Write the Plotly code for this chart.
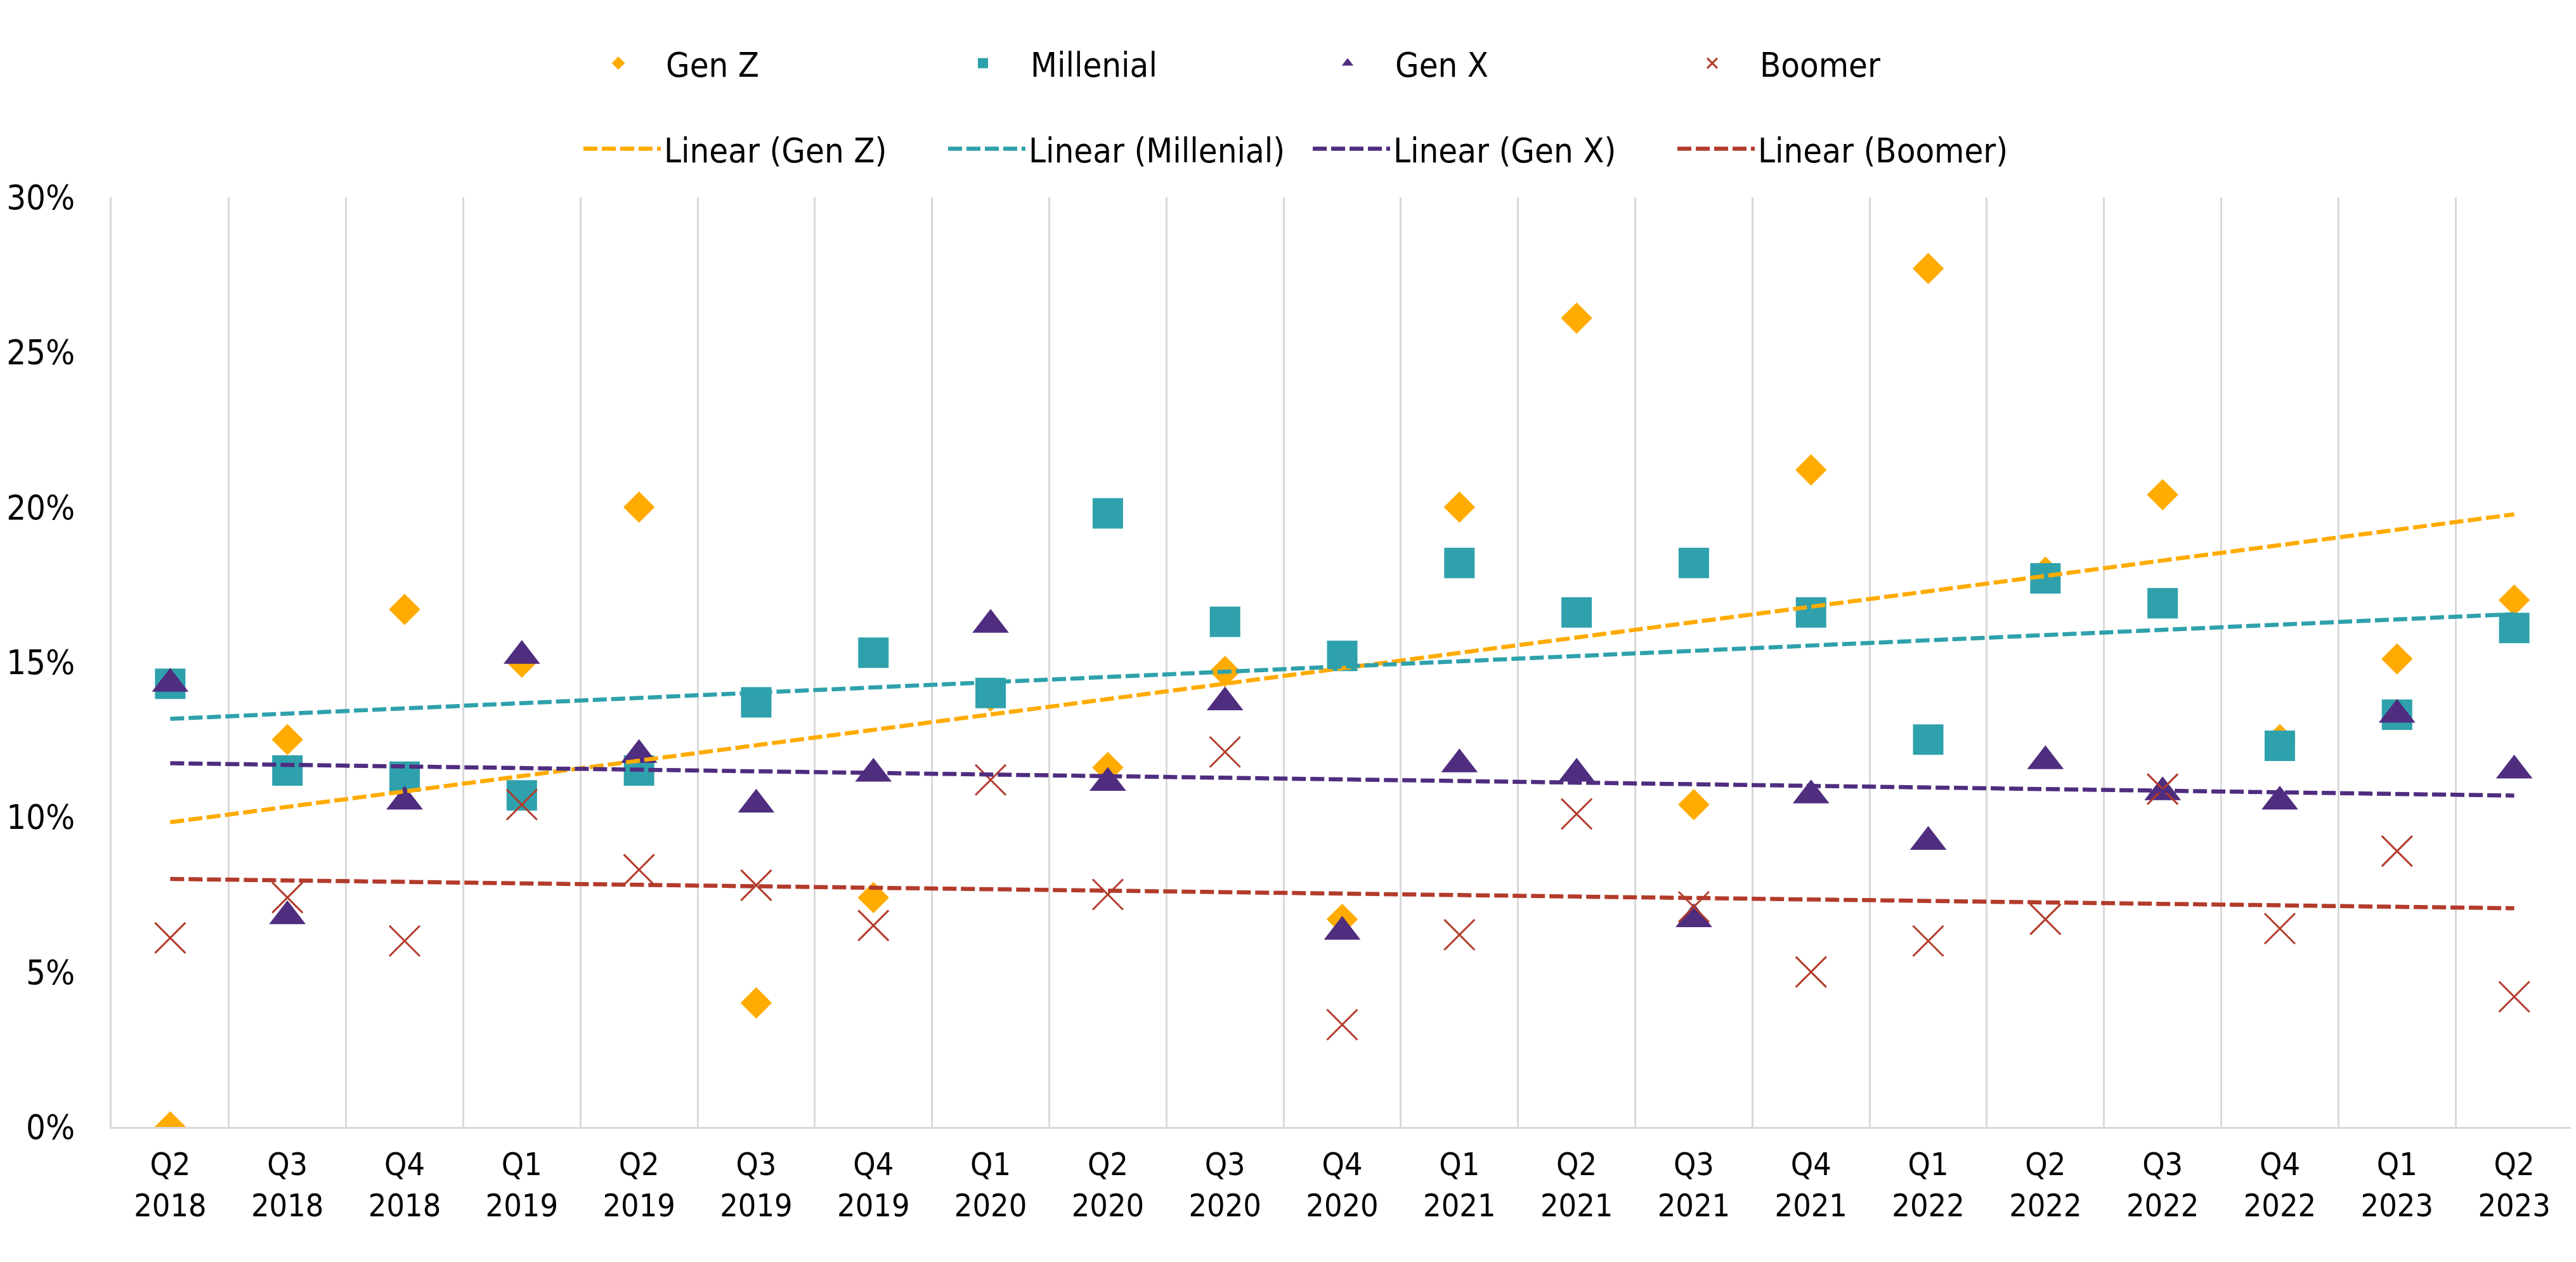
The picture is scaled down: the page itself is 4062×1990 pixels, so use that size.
import numpy as np
import plotly.graph_objects as go

quarters = ["Q2<br>2018", "Q3<br>2018", "Q4<br>2018", "Q1<br>2019", "Q2<br>2019", "Q3<br>2019",
            "Q4<br>2019", "Q1<br>2020", "Q2<br>2020", "Q3<br>2020", "Q4<br>2020", "Q1<br>2021",
            "Q2<br>2021", "Q3<br>2021", "Q4<br>2021", "Q1<br>2022", "Q2<br>2022", "Q3<br>2022",
            "Q4<br>2022", "Q1<br>2023", "Q2<br>2023"]

# percentages
gen_z = [0.0, 12.5, 16.7, 15.0, 20.0, 4.0, 7.4, 13.9, 11.6, 14.7, 6.7,
         20.0, 26.1, 10.4, 21.2, 27.7, 17.9, 20.4, 12.5, 15.1, 17.0]
millenial = [14.3, 11.5, 11.3, 10.7, 11.5, 13.7, 15.3, 14.0, 19.8, 16.3, 15.2,
             18.2, 16.6, 18.2, 16.6, 12.5, 17.7, 16.9, 12.3, 13.3, 16.1]
gen_x = [14.3, 6.8, 10.5, 15.2, 12.0, 10.4, 11.4, 16.2, 11.1, 13.7, 6.3,
         11.7, 11.4, 6.7, 10.7, 9.2, 11.8, 10.8, 10.5, 13.3, 11.5]
boomer = [6.1, 7.4, 6.0, 10.4, 8.3, 7.8, 6.5, 11.2, 7.5, 12.1, 3.3,
          6.2, 10.1, 7.1, 5.0, 6.0, 6.7, 10.9, 6.4, 8.9, 4.2]

FONT = "Tahoma, 'DejaVu Sans Condensed', 'DejaVu Sans', sans-serif"
GRID = "#d9d9d9"
W, H = 4054, 1982  # page body adds an 8px margin

series = [
    ("Gen Z", gen_z, "#FFAB00", dict(symbol="diamond", size=38)),
    ("Millenial", millenial, "#2EA1AC", dict(symbol="square", size=48)),
    ("Gen X", gen_x, "#4F2D7F", dict(symbol="triangle-up", size=50)),
    ("Boomer", boomer, "#B33B2B", dict(symbol="x-thin", size=48)),
]

fig = go.Figure()

for name, vals, color, mk in series:
    marker = dict(color=color, **mk)
    if mk["symbol"] == "x-thin":
        marker["line"] = dict(color=color, width=3)
    else:
        marker["line"] = dict(width=0)
    fig.add_trace(go.Scatter(x=quarters, y=vals, mode="markers", name=name,
                             marker=marker, legend="legend"))

# linear trendlines (least squares on category index, like Excel)
idx = np.arange(1, len(quarters) + 1)
for name, vals, color, mk in series:
    slope, intercept = np.polyfit(idx, np.array(vals), 1)
    fit = slope * idx + intercept
    fig.add_trace(go.Scatter(x=quarters, y=fit, mode="lines", name=f"Linear ({name})",
                             line=dict(color=color, width=6.5, dash="22px,7px"),
                             legend="legend2"))

fig.update_layout(
    width=W, height=H,
    margin=dict(l=164, r=2, t=303, b=213),
    paper_bgcolor="white", plot_bgcolor="white",
    font=dict(family=FONT, size=54, color="black"),
    legend=dict(orientation="h", xref="container", yref="container",
                x=892 / W, y=1 - 92 / H, xanchor="left", yanchor="middle",
                itemwidth=140, entrywidth=420, font=dict(size=54),
                bgcolor="rgba(0,0,0,0)"),
    legend2=dict(orientation="h", xref="container", yref="container",
                 x=907 / W, y=1 - 227 / H, xanchor="left", yanchor="middle",
                 itemwidth=122, entrywidth=438, font=dict(size=54),
                 bgcolor="rgba(0,0,0,0)"),
    xaxis=dict(type="category", range=[-0.5, len(quarters) - 0.5],
               tickson="boundaries", showgrid=True, gridcolor=GRID, gridwidth=3,
               showline=True, linecolor=GRID, linewidth=3, ticks="",
               tickfont=dict(size=50), ticklabelstandoff=13),
    yaxis=dict(range=[0, 30], dtick=5, ticksuffix="%", showgrid=False,
               zeroline=False, showline=True, mirror=True, linecolor=GRID, linewidth=3,
               ticks="", tickfont=dict(size=54), ticklabelstandoff=44),
)

fig.write_html("out.html")
